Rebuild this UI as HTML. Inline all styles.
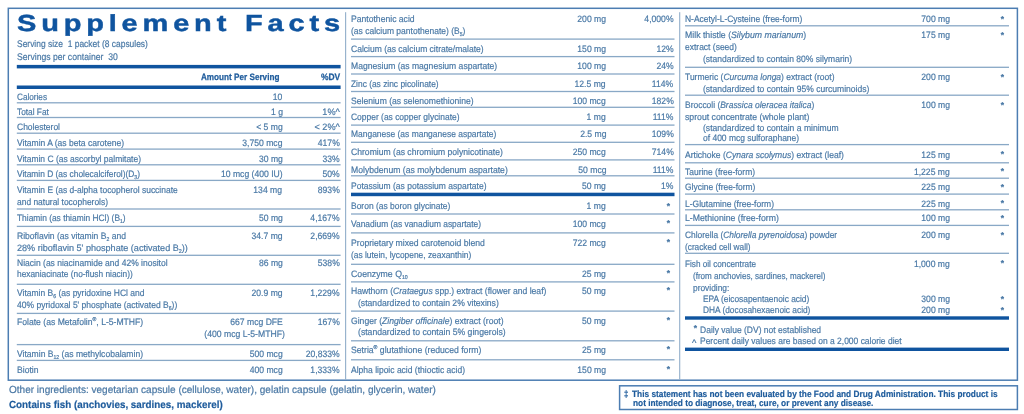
<!DOCTYPE html>
<html lang="en">
<head>
<meta charset="utf-8">
<title>Supplement Facts</title>
<style>
html,body{margin:0;padding:0;background:#fff;}
body{width:1024px;height:414px;position:relative;overflow:hidden;font-family:"Liberation Sans",Arial,Helvetica,sans-serif;color:#4a79a6;text-rendering:geometricPrecision;}
svg.g{position:absolute;left:0;top:0;}
.t{position:absolute;white-space:nowrap;-webkit-text-stroke:0.2px #4a79a6;}
.t sub,.t sup{font-size:5.6px;line-height:0;}
.t sub{vertical-align:-1.6px;}
.t sup{vertical-align:3.6px;}
.b{font-weight:bold;color:#1f5c9c;-webkit-text-stroke:0.25px #1f5c9c;}
.b2{font-weight:bold;color:#1f5c9c;-webkit-text-stroke:0.2px #1f5c9c;}
.oi{color:#4a77a3;}
.star{font-weight:bold;font-size:8.5px !important;-webkit-text-stroke:0.25px #4a79a6;}
.title{position:absolute;left:16.6px;top:8.2px;font-size:23.2px;line-height:30px;font-weight:bold;color:#0f549f;white-space:nowrap;letter-spacing:3.86px;word-spacing:0.8px;-webkit-text-stroke:0.45px #0f549f;transform:scaleX(1.25);transform-origin:0 0;}
.t{font-size:9.3px;line-height:12px;}
</style>
</head>
<body>
<svg class="g" width="1024" height="414" viewBox="0 0 1024 414">
<rect x="8.30" y="8.30" width="1009.10" height="371.90" fill="none" stroke="#4c7db2" stroke-width="1.5"/>
<rect x="619.60" y="385.80" width="397.80" height="23.70" fill="none" stroke="#4c7db2" stroke-width="1.5"/>
<rect x="345.03" y="12.2" width="1.15" height="367.8" fill="#96b1cc"/>
<rect x="679.12" y="12.2" width="1.15" height="367.8" fill="#96b1cc"/>
<rect x="16.8" y="64.90" width="323.8" height="3.50" fill="#0f549f"/>
<rect x="16.8" y="85.50" width="323.8" height="3.50" fill="#0f549f"/>
<rect x="16.8" y="102.15" width="323.8" height="1.30" fill="#89a8c6"/>
<rect x="16.8" y="116.85" width="323.8" height="1.30" fill="#89a8c6"/>
<rect x="16.8" y="132.55" width="323.8" height="1.30" fill="#89a8c6"/>
<rect x="16.8" y="148.45" width="323.8" height="1.30" fill="#89a8c6"/>
<rect x="16.8" y="164.15" width="323.8" height="1.30" fill="#89a8c6"/>
<rect x="16.8" y="179.75" width="323.8" height="1.30" fill="#89a8c6"/>
<rect x="16.8" y="208.35" width="323.8" height="1.30" fill="#89a8c6"/>
<rect x="16.8" y="225.75" width="323.8" height="1.30" fill="#89a8c6"/>
<rect x="16.8" y="254.65" width="323.8" height="1.30" fill="#89a8c6"/>
<rect x="16.8" y="283.65" width="323.8" height="1.30" fill="#89a8c6"/>
<rect x="16.8" y="312.75" width="323.8" height="1.30" fill="#89a8c6"/>
<rect x="16.8" y="343.95" width="323.8" height="1.30" fill="#89a8c6"/>
<rect x="16.8" y="359.75" width="323.8" height="1.30" fill="#89a8c6"/>
<rect x="351.0" y="38.45" width="323.5" height="1.30" fill="#89a8c6"/>
<rect x="351.0" y="55.95" width="323.5" height="1.30" fill="#89a8c6"/>
<rect x="351.0" y="73.35" width="323.5" height="1.30" fill="#89a8c6"/>
<rect x="351.0" y="90.85" width="323.5" height="1.30" fill="#89a8c6"/>
<rect x="351.0" y="106.65" width="323.5" height="1.30" fill="#89a8c6"/>
<rect x="351.0" y="124.45" width="323.5" height="1.30" fill="#89a8c6"/>
<rect x="351.0" y="141.65" width="323.5" height="1.30" fill="#89a8c6"/>
<rect x="351.0" y="159.25" width="323.5" height="1.30" fill="#89a8c6"/>
<rect x="351.0" y="175.15" width="323.5" height="1.30" fill="#89a8c6"/>
<rect x="351.0" y="213.35" width="323.5" height="1.30" fill="#89a8c6"/>
<rect x="351.0" y="232.25" width="323.5" height="1.30" fill="#89a8c6"/>
<rect x="351.0" y="263.65" width="323.5" height="1.30" fill="#89a8c6"/>
<rect x="351.0" y="281.25" width="323.5" height="1.30" fill="#89a8c6"/>
<rect x="351.0" y="310.45" width="323.5" height="1.30" fill="#89a8c6"/>
<rect x="351.0" y="340.15" width="323.5" height="1.30" fill="#89a8c6"/>
<rect x="351.0" y="359.15" width="323.5" height="1.30" fill="#89a8c6"/>
<rect x="351.0" y="192.70" width="323.5" height="3.50" fill="#0f549f"/>
<rect x="685.0" y="25.15" width="324.0" height="1.30" fill="#89a8c6"/>
<rect x="685.0" y="66.65" width="324.0" height="1.30" fill="#89a8c6"/>
<rect x="685.0" y="94.55" width="324.0" height="1.30" fill="#89a8c6"/>
<rect x="685.0" y="143.95" width="324.0" height="1.30" fill="#89a8c6"/>
<rect x="685.0" y="162.15" width="324.0" height="1.30" fill="#89a8c6"/>
<rect x="685.0" y="177.55" width="324.0" height="1.30" fill="#89a8c6"/>
<rect x="685.0" y="193.45" width="324.0" height="1.30" fill="#89a8c6"/>
<rect x="685.0" y="209.15" width="324.0" height="1.30" fill="#89a8c6"/>
<rect x="685.0" y="224.75" width="324.0" height="1.30" fill="#89a8c6"/>
<rect x="685.0" y="252.65" width="324.0" height="1.30" fill="#89a8c6"/>
<rect x="685.0" y="316.30" width="324.0" height="3.40" fill="#0f549f"/>
<rect x="685.0" y="347.60" width="324.0" height="3.40" fill="#0f549f"/>
</svg>
<div class="title">Supplement Facts</div>
<div class="t" style="left:17.0px;transform-origin:0 0;top:38.5px;font-size:9.6px;transform:scaleX(0.8798)">Serving size&nbsp; 1 packet (8 capsules)</div>
<div class="t" style="left:17.0px;transform-origin:0 0;top:51.5px;font-size:9.6px;transform:scaleX(0.9000)">Servings per container&nbsp; 30</div>
<div class="t b" style="right:744.2px;transform-origin:100% 0;top:71px;transform:scaleX(0.8772)">Amount Per Serving</div>
<div class="t b" style="right:684.2px;transform-origin:100% 0;top:71px;transform:scaleX(0.9109)">%DV</div>
<div class="t" style="left:17.0px;transform-origin:0 0;top:91px;transform:scaleX(0.8795)">Calories</div>
<div class="t" style="right:741.5px;transform-origin:100% 0;top:91px;transform:scaleX(0.9250)">10</div>
<div class="t" style="left:17.0px;transform-origin:0 0;top:106px;transform:scaleX(0.8918)">Total Fat</div>
<div class="t" style="right:741.5px;transform-origin:100% 0;top:106px;transform:scaleX(0.9250)">1 g</div>
<div class="t" style="right:684.6px;transform-origin:100% 0;top:106px;transform:scaleX(0.9800)">1%^</div>
<div class="t" style="left:17.0px;transform-origin:0 0;top:121px;transform:scaleX(0.9143)">Cholesterol</div>
<div class="t" style="right:741.5px;transform-origin:100% 0;top:121px;transform:scaleX(0.9250)">&lt; 5 mg</div>
<div class="t" style="right:684.6px;transform-origin:100% 0;top:121px;transform:scaleX(0.9800)">&lt; 2%^</div>
<div class="t" style="left:17.0px;transform-origin:0 0;top:137px;transform:scaleX(0.9175)">Vitamin A (as beta carotene)</div>
<div class="t" style="right:741.5px;transform-origin:100% 0;top:137px;transform:scaleX(0.9250)">3,750 mcg</div>
<div class="t" style="right:684.6px;transform-origin:100% 0;top:137px;transform:scaleX(0.9250)">417%</div>
<div class="t" style="left:17.0px;transform-origin:0 0;top:153px;transform:scaleX(0.9102)">Vitamin C (as ascorbyl palmitate)</div>
<div class="t" style="right:741.5px;transform-origin:100% 0;top:153px;transform:scaleX(0.9250)">30 mg</div>
<div class="t" style="right:684.6px;transform-origin:100% 0;top:153px;transform:scaleX(0.9250)">33%</div>
<div class="t" style="left:17.0px;transform-origin:0 0;top:168px;transform:scaleX(0.9026)">Vitamin D (as cholecalciferol)(D<sub>3</sub>)</div>
<div class="t" style="right:741.5px;transform-origin:100% 0;top:168px;transform:scaleX(0.9250)">10 mcg (400 IU)</div>
<div class="t" style="right:684.6px;transform-origin:100% 0;top:168px;transform:scaleX(0.9250)">50%</div>
<div class="t" style="left:17.0px;transform-origin:0 0;top:184px;transform:scaleX(0.9101)">Vitamin E (as d-alpha tocopherol succinate</div>
<div class="t" style="left:17.0px;transform-origin:0 0;top:196px;transform:scaleX(0.9076)">and natural tocopherols)</div>
<div class="t" style="right:741.5px;transform-origin:100% 0;top:184px;transform:scaleX(0.9250)">134 mg</div>
<div class="t" style="right:684.6px;transform-origin:100% 0;top:184px;transform:scaleX(0.9250)">893%</div>
<div class="t" style="left:17.0px;transform-origin:0 0;top:212px;transform:scaleX(0.9019)">Thiamin (as thiamin HCl) (B<sub>1</sub>)</div>
<div class="t" style="right:741.5px;transform-origin:100% 0;top:212px;transform:scaleX(0.9250)">50 mg</div>
<div class="t" style="right:684.6px;transform-origin:100% 0;top:212px;transform:scaleX(0.9250)">4,167%</div>
<div class="t" style="left:17.0px;transform-origin:0 0;top:230px;transform:scaleX(0.9208)">Riboflavin (as vitamin B<sub>2</sub> and</div>
<div class="t" style="left:17.0px;transform-origin:0 0;top:242px;transform:scaleX(0.9769)">28% riboflavin 5' phosphate (activated B<sub>2</sub>))</div>
<div class="t" style="right:741.5px;transform-origin:100% 0;top:230px;transform:scaleX(0.9250)">34.7 mg</div>
<div class="t" style="right:684.6px;transform-origin:100% 0;top:230px;transform:scaleX(0.9250)">2,669%</div>
<div class="t" style="left:17.0px;transform-origin:0 0;top:257px;transform:scaleX(0.9164)">Niacin (as niacinamide and 42% inositol</div>
<div class="t" style="left:17.0px;transform-origin:0 0;top:268px;transform:scaleX(0.8963)">hexaniacinate (no-flush niacin))</div>
<div class="t" style="right:741.5px;transform-origin:100% 0;top:257px;transform:scaleX(0.9250)">86 mg</div>
<div class="t" style="right:684.6px;transform-origin:100% 0;top:257px;transform:scaleX(0.9250)">538%</div>
<div class="t" style="left:17.0px;transform-origin:0 0;top:287px;transform:scaleX(0.9147)">Vitamin B<sub>6</sub> (as pyridoxine HCl and</div>
<div class="t" style="left:17.0px;transform-origin:0 0;top:299px;transform:scaleX(0.9163)">40% pyridoxal 5' phosphate (activated B<sub>6</sub>))</div>
<div class="t" style="right:741.5px;transform-origin:100% 0;top:287px;transform:scaleX(0.9250)">20.9 mg</div>
<div class="t" style="right:684.6px;transform-origin:100% 0;top:287px;transform:scaleX(0.9250)">1,229%</div>
<div class="t" style="left:17.0px;transform-origin:0 0;top:316px;transform:scaleX(0.9252)">Folate (as Metafolin<sup>&reg;</sup>, L-5-MTHF)</div>
<div class="t" style="right:741.5px;transform-origin:100% 0;top:316px;transform:scaleX(0.9250)">667 mcg DFE</div>
<div class="t" style="right:739.4px;transform-origin:100% 0;top:328px;transform:scaleX(0.9275)">(400 mcg L-5-MTHF)</div>
<div class="t" style="right:684.6px;transform-origin:100% 0;top:316px;transform:scaleX(0.9250)">167%</div>
<div class="t" style="left:17.0px;transform-origin:0 0;top:348px;transform:scaleX(0.9211)">Vitamin B<sub>12</sub> (as methylcobalamin)</div>
<div class="t" style="right:741.5px;transform-origin:100% 0;top:348px;transform:scaleX(0.9250)">500 mcg</div>
<div class="t" style="right:684.6px;transform-origin:100% 0;top:348px;transform:scaleX(0.9250)">20,833%</div>
<div class="t" style="left:17.0px;transform-origin:0 0;top:364px;transform:scaleX(0.9241)">Biotin</div>
<div class="t" style="right:741.5px;transform-origin:100% 0;top:364px;transform:scaleX(0.9250)">400 mcg</div>
<div class="t" style="right:684.6px;transform-origin:100% 0;top:364px;transform:scaleX(0.9250)">1,333%</div>
<div class="t" style="left:350.6px;transform-origin:0 0;top:13px;transform:scaleX(0.9251)">Pantothenic acid</div>
<div class="t" style="left:350.6px;transform-origin:0 0;top:25px;transform:scaleX(0.9145)">(as calcium pantothenate) (B<sub>5</sub>)</div>
<div class="t" style="right:418.0px;transform-origin:100% 0;top:13px;transform:scaleX(0.9250)">200 mg</div>
<div class="t" style="right:350.7px;transform-origin:100% 0;top:13px;transform:scaleX(0.9250)">4,000%</div>
<div class="t" style="left:350.6px;transform-origin:0 0;top:43px;transform:scaleX(0.9167)">Calcium (as calcium citrate/malate)</div>
<div class="t" style="right:418.0px;transform-origin:100% 0;top:43px;transform:scaleX(0.9250)">150 mg</div>
<div class="t" style="right:350.7px;transform-origin:100% 0;top:43px;transform:scaleX(0.9250)">12%</div>
<div class="t" style="left:350.6px;transform-origin:0 0;top:60px;transform:scaleX(0.9216)">Magnesium (as magnesium aspartate)</div>
<div class="t" style="right:418.0px;transform-origin:100% 0;top:60px;transform:scaleX(0.9250)">100 mg</div>
<div class="t" style="right:350.7px;transform-origin:100% 0;top:60px;transform:scaleX(0.9250)">24%</div>
<div class="t" style="left:350.6px;transform-origin:0 0;top:78px;transform:scaleX(0.9018)">Zinc (as zinc picolinate)</div>
<div class="t" style="right:418.0px;transform-origin:100% 0;top:78px;transform:scaleX(0.9250)">12.5 mg</div>
<div class="t" style="right:350.7px;transform-origin:100% 0;top:78px;transform:scaleX(0.9250)">114%</div>
<div class="t" style="left:350.6px;transform-origin:0 0;top:95px;transform:scaleX(0.9231)">Selenium (as selenomethionine)</div>
<div class="t" style="right:418.0px;transform-origin:100% 0;top:95px;transform:scaleX(0.9250)">100 mcg</div>
<div class="t" style="right:350.7px;transform-origin:100% 0;top:95px;transform:scaleX(0.9250)">182%</div>
<div class="t" style="left:350.6px;transform-origin:0 0;top:111px;transform:scaleX(0.9089)">Copper (as copper glycinate)</div>
<div class="t" style="right:418.0px;transform-origin:100% 0;top:111px;transform:scaleX(0.9250)">1 mg</div>
<div class="t" style="right:350.7px;transform-origin:100% 0;top:111px;transform:scaleX(0.9250)">111%</div>
<div class="t" style="left:350.6px;transform-origin:0 0;top:128px;transform:scaleX(0.9098)">Manganese (as manganese aspartate)</div>
<div class="t" style="right:418.0px;transform-origin:100% 0;top:128px;transform:scaleX(0.9250)">2.5 mg</div>
<div class="t" style="right:350.7px;transform-origin:100% 0;top:128px;transform:scaleX(0.9250)">109%</div>
<div class="t" style="left:350.6px;transform-origin:0 0;top:146px;transform:scaleX(0.9245)">Chromium (as chromium polynicotinate)</div>
<div class="t" style="right:418.0px;transform-origin:100% 0;top:146px;transform:scaleX(0.9250)">250 mcg</div>
<div class="t" style="right:350.7px;transform-origin:100% 0;top:146px;transform:scaleX(0.9250)">714%</div>
<div class="t" style="left:350.6px;transform-origin:0 0;top:164px;transform:scaleX(0.9279)">Molybdenum (as molybdenum aspartate)</div>
<div class="t" style="right:418.0px;transform-origin:100% 0;top:164px;transform:scaleX(0.9250)">50 mcg</div>
<div class="t" style="right:350.7px;transform-origin:100% 0;top:164px;transform:scaleX(0.9250)">111%</div>
<div class="t" style="left:350.6px;transform-origin:0 0;top:180px;transform:scaleX(0.9137)">Potassium (as potassium aspartate)</div>
<div class="t" style="right:418.0px;transform-origin:100% 0;top:180px;transform:scaleX(0.9250)">50 mg</div>
<div class="t" style="right:350.7px;transform-origin:100% 0;top:180px;transform:scaleX(0.9250)">1%</div>
<div class="t" style="left:350.6px;transform-origin:0 0;top:200px;transform:scaleX(0.9115)">Boron (as boron glycinate)</div>
<div class="t" style="right:418.0px;transform-origin:100% 0;top:200px;transform:scaleX(0.9250)">1 mg</div>
<div class="t" style="left:350.6px;transform-origin:0 0;top:218px;transform:scaleX(0.9027)">Vanadium (as vanadium aspartate)</div>
<div class="t" style="right:418.0px;transform-origin:100% 0;top:218px;transform:scaleX(0.9250)">100 mcg</div>
<div class="t" style="left:350.6px;transform-origin:0 0;top:237px;transform:scaleX(0.9287)">Proprietary mixed carotenoid blend</div>
<div class="t" style="left:350.6px;transform-origin:0 0;top:249px;transform:scaleX(0.9022)">(as lutein, lycopene, zeaxanthin)</div>
<div class="t" style="right:418.0px;transform-origin:100% 0;top:237px;transform:scaleX(0.9250)">722 mcg</div>
<div class="t" style="left:350.6px;transform-origin:0 0;top:268px;transform:scaleX(0.9388)">Coenzyme Q<sub>10</sub></div>
<div class="t" style="right:418.0px;transform-origin:100% 0;top:268px;transform:scaleX(0.9250)">25 mg</div>
<div class="t" style="left:350.6px;transform-origin:0 0;top:285px;transform:scaleX(0.9245)">Hawthorn (<i>Crataegus</i> spp.) extract (flower and leaf)</div>
<div class="t" style="left:358.4px;transform-origin:0 0;top:297px;transform:scaleX(0.9267)">(standardized to contain 2% vitexins)</div>
<div class="t" style="right:418.0px;transform-origin:100% 0;top:285px;transform:scaleX(0.9250)">50 mg</div>
<div class="t" style="left:350.6px;transform-origin:0 0;top:315px;transform:scaleX(0.9251)">Ginger (<i>Zingiber officinale</i>) extract (root)</div>
<div class="t" style="left:358.4px;transform-origin:0 0;top:326px;transform:scaleX(0.9303)">(standardized to contain 5% gingerols)</div>
<div class="t" style="right:418.0px;transform-origin:100% 0;top:315px;transform:scaleX(0.9250)">50 mg</div>
<div class="t" style="left:350.6px;transform-origin:0 0;top:344px;transform:scaleX(0.9311)">Setria<sup>&reg;</sup> glutathione (reduced form)</div>
<div class="t" style="right:418.0px;transform-origin:100% 0;top:344px;transform:scaleX(0.9250)">25 mg</div>
<div class="t" style="left:350.6px;transform-origin:0 0;top:364px;transform:scaleX(0.9153)">Alpha lipoic acid (thioctic acid)</div>
<div class="t" style="right:418.0px;transform-origin:100% 0;top:364px;transform:scaleX(0.9250)">150 mg</div>
<div class="t" style="left:685.0px;transform-origin:0 0;top:13px;transform:scaleX(0.9082)">N-Acetyl-L-Cysteine (free-form)</div>
<div class="t" style="right:74.0px;transform-origin:100% 0;top:13px;transform:scaleX(0.9250)">700 mg</div>
<div class="t" style="left:685.0px;transform-origin:0 0;top:29px;transform:scaleX(0.9383)">Milk thistle (<i>Silybum marianum</i>)</div>
<div class="t" style="right:74.0px;transform-origin:100% 0;top:29px;transform:scaleX(0.9250)">175 mg</div>
<div class="t" style="left:685.0px;transform-origin:0 0;top:41px;transform:scaleX(0.9130)">extract (seed)</div>
<div class="t" style="left:702.9px;transform-origin:0 0;top:53px;transform:scaleX(0.9166)">(standardized to contain 80% silymarin)</div>
<div class="t" style="left:685.0px;transform-origin:0 0;top:71px;transform:scaleX(0.9147)">Turmeric (<i>Curcuma longa</i>) extract (root)</div>
<div class="t" style="right:74.0px;transform-origin:100% 0;top:71px;transform:scaleX(0.9250)">200 mg</div>
<div class="t" style="left:702.9px;transform-origin:0 0;top:83px;transform:scaleX(0.9200)">(standardized to contain 95% curcuminoids)</div>
<div class="t" style="left:685.0px;transform-origin:0 0;top:99px;transform:scaleX(0.9092)">Broccoli (<i>Brassica oleracea italica</i>)</div>
<div class="t" style="right:74.0px;transform-origin:100% 0;top:99px;transform:scaleX(0.9250)">100 mg</div>
<div class="t" style="left:685.0px;transform-origin:0 0;top:111px;transform:scaleX(0.9367)">sprout concentrate (whole plant)</div>
<div class="t" style="left:702.9px;transform-origin:0 0;top:122px;transform:scaleX(0.9207)">(standardized to contain a minimum</div>
<div class="t" style="left:702.9px;transform-origin:0 0;top:132px;transform:scaleX(0.9114)">of 400 mcg sulforaphane)</div>
<div class="t" style="left:685.0px;transform-origin:0 0;top:149px;transform:scaleX(0.9180)">Artichoke (<i>Cynara scolymus</i>) extract (leaf)</div>
<div class="t" style="right:74.0px;transform-origin:100% 0;top:149px;transform:scaleX(0.9250)">125 mg</div>
<div class="t" style="left:685.0px;transform-origin:0 0;top:166px;transform:scaleX(0.9093)">Taurine (free-form)</div>
<div class="t" style="right:74.0px;transform-origin:100% 0;top:166px;transform:scaleX(0.9250)">1,225 mg</div>
<div class="t" style="left:685.0px;transform-origin:0 0;top:181px;transform:scaleX(0.9084)">Glycine (free-form)</div>
<div class="t" style="right:74.0px;transform-origin:100% 0;top:181px;transform:scaleX(0.9250)">225 mg</div>
<div class="t" style="left:685.0px;transform-origin:0 0;top:198px;transform:scaleX(0.9163)">L-Glutamine (free-form)</div>
<div class="t" style="right:74.0px;transform-origin:100% 0;top:198px;transform:scaleX(0.9250)">225 mg</div>
<div class="t" style="left:685.0px;transform-origin:0 0;top:212px;transform:scaleX(0.9368)">L-Methionine (free-form)</div>
<div class="t" style="right:74.0px;transform-origin:100% 0;top:212px;transform:scaleX(0.9250)">100 mg</div>
<div class="t" style="left:685.0px;transform-origin:0 0;top:229px;transform:scaleX(0.9028)">Chlorella (<i>Chlorella pyrenoidosa</i>) powder</div>
<div class="t" style="right:74.0px;transform-origin:100% 0;top:229px;transform:scaleX(0.9250)">200 mg</div>
<div class="t" style="left:685.0px;transform-origin:0 0;top:241px;transform:scaleX(0.8878)">(cracked cell wall)</div>
<div class="t" style="left:685.0px;transform-origin:0 0;top:258px;transform:scaleX(0.8806)">Fish oil concentrate</div>
<div class="t" style="right:74.0px;transform-origin:100% 0;top:258px;transform:scaleX(0.9250)">1,000 mg</div>
<div class="t" style="left:693.0px;transform-origin:0 0;top:270px;transform:scaleX(0.8686)">(from anchovies, sardines, mackerel)</div>
<div class="t" style="left:693.0px;transform-origin:0 0;top:282px;transform:scaleX(0.9005)">providing:</div>
<div class="t" style="left:702.9px;transform-origin:0 0;top:293px;transform:scaleX(0.8994)">EPA (eicosapentaenoic acid)</div>
<div class="t" style="right:74.0px;transform-origin:100% 0;top:293px;transform:scaleX(0.9250)">300 mg</div>
<div class="t" style="left:702.9px;transform-origin:0 0;top:304px;transform:scaleX(0.8957)">DHA (docosahexaenoic acid)</div>
<div class="t" style="right:74.0px;transform-origin:100% 0;top:304px;transform:scaleX(0.9250)">200 mg</div>
<div class="t" style="left:700.4px;transform-origin:0 0;top:324px;transform:scaleX(0.9154)">Daily value (DV) not established</div>
<div class="t" style="left:692.0px;transform-origin:0 0;top:337px;transform:scaleX(1.0000)">^</div>
<div class="t" style="left:700.4px;transform-origin:0 0;top:335px;transform:scaleX(0.9114)">Percent daily values are based on a 2,000 calorie diet</div>
<div class="t oi" style="left:8.8px;transform-origin:0 0;top:384.5px;font-size:10.3px;transform:scaleX(0.9737)">Other ingredients: vegetarian capsule (cellulose, water), gelatin capsule (gelatin, glycerin, water)</div>
<div class="t b2" style="left:8.8px;transform-origin:0 0;top:399.5px;font-size:10.3px;transform:scaleX(0.9550)">Contains fish (anchovies, sardines, mackerel)</div>
<div class="t b2" style="left:624.0px;transform-origin:0 0;top:388px;font-size:9.2px;transform:scaleX(0.8500)">&Dagger;</div>
<div class="t b2" style="left:631.8px;transform-origin:0 0;top:388px;font-size:9.2px;transform:scaleX(0.9039)">This statement has not been evaluated by the Food and Drug Administration. This product is</div>
<div class="t b2" style="left:632.6px;transform-origin:0 0;top:397px;font-size:9.2px;transform:scaleX(0.9039)">not intended to diagnose, treat, cure, or prevent any disease.</div>
<div class="t star" style="left:666.63px;top:200px">*</div>
<div class="t star" style="left:666.63px;top:217px">*</div>
<div class="t star" style="left:666.63px;top:236px">*</div>
<div class="t star" style="left:666.63px;top:267px">*</div>
<div class="t star" style="left:666.63px;top:284px">*</div>
<div class="t star" style="left:666.63px;top:314px">*</div>
<div class="t star" style="left:666.63px;top:343px">*</div>
<div class="t star" style="left:666.63px;top:363px">*</div>
<div class="t star" style="left:1000.63px;top:13px">*</div>
<div class="t star" style="left:1000.63px;top:29px">*</div>
<div class="t star" style="left:1000.63px;top:71px">*</div>
<div class="t star" style="left:1000.63px;top:99px">*</div>
<div class="t star" style="left:1000.63px;top:148px">*</div>
<div class="t star" style="left:1000.63px;top:165px">*</div>
<div class="t star" style="left:1000.63px;top:181px">*</div>
<div class="t star" style="left:1000.63px;top:197px">*</div>
<div class="t star" style="left:1000.63px;top:212px">*</div>
<div class="t star" style="left:1000.63px;top:229px">*</div>
<div class="t star" style="left:1000.63px;top:257px">*</div>
<div class="t star" style="left:1000.63px;top:293px">*</div>
<div class="t star" style="left:1000.63px;top:304px">*</div>
<div class="t star" style="left:693.63px;top:322px">*</div>
</body>
</html>
